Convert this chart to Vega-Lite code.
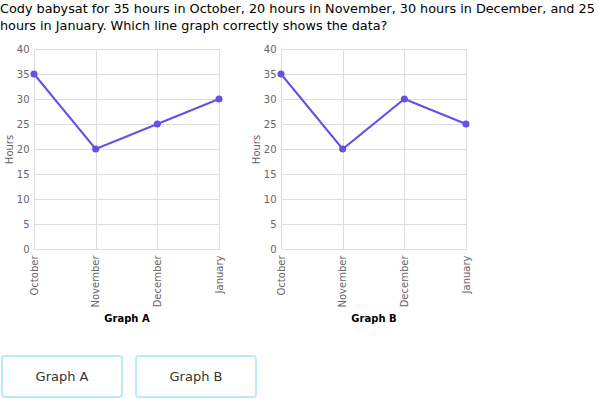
{
  "$schema": "https://vega.github.io/schema/vega-lite/v6.json",
  "padding": {"left": 0, "top": 3, "right": 0, "bottom": 0},
  "background": "white",
  "title": {
    "text": ["Cody babysat for 35 hours in October, 20 hours in November, 30 hours in December, and 25", "hours in January. Which line graph correctly shows the data?"],
    "anchor": "start",
    "font": "DejaVu Sans",
    "fontSize": 12.8,
    "fontWeight": "normal",
    "color": "#000000",
    "lineHeight": 17,
    "offset": 11,
    "dx": -1
  },
  "config": {
    "font": "DejaVu Sans",
    "view": {"stroke": null},
    "axis": {
      "gridColor": "#dddddd",
      "grid": true,
      "domain": false,
      "ticks": false,
      "labelColor": "#666666",
      "labelFontSize": 10,
      "labelFont": "DejaVu Sans"
    }
  },
  "datasets": {
    "hours": [
      {"graph": "A", "month": "October", "hours": 35},
      {"graph": "A", "month": "November", "hours": 20},
      {"graph": "A", "month": "December", "hours": 25},
      {"graph": "A", "month": "January", "hours": 30},
      {"graph": "B", "month": "October", "hours": 35},
      {"graph": "B", "month": "November", "hours": 20},
      {"graph": "B", "month": "December", "hours": 30},
      {"graph": "B", "month": "January", "hours": 25}
    ],
    "buttons": [
      {"label": "Graph A"},
      {"label": "Graph B"}
    ]
  },
  "spacing": 31,
  "vconcat": [
    {
      "spacing": 27,
      "hconcat": [
        {
          "width": 185,
          "height": 200,
          "data": {"name": "hours"},
          "transform": [{"filter": "datum.graph === 'A'"}],
          "mark": {"type": "line", "color": "#6a4ee8", "strokeWidth": 2, "point": {"filled": true, "size": 50, "color": "#6a4ee8"}},
          "encoding": {
            "x": {
              "field": "month", "type": "ordinal",
              "sort": ["October", "November", "December", "January"],
              "scale": {"type": "point", "padding": 0},
              "axis": {"grid": true, "labelAngle": -90, "labelPadding": 6, "title": "Graph A", "titleFontWeight": "bold", "titleFontSize": 10, "titleColor": "#000000", "titlePadding": 6}
            },
            "y": {
              "field": "hours", "type": "quantitative",
              "scale": {"domain": [0, 40], "nice": false},
              "axis": {"values": [0, 5, 10, 15, 20, 25, 30, 35, 40], "labelPadding": 5, "title": "Hours", "titleFontWeight": "normal", "titleFontSize": 10, "titleColor": "#666666", "titlePadding": 2}
            }
          }
        },
        {
          "width": 185,
          "height": 200,
          "data": {"name": "hours"},
          "transform": [{"filter": "datum.graph === 'B'"}],
          "mark": {"type": "line", "color": "#6a4ee8", "strokeWidth": 2, "point": {"filled": true, "size": 50, "color": "#6a4ee8"}},
          "encoding": {
            "x": {
              "field": "month", "type": "ordinal",
              "sort": ["October", "November", "December", "January"],
              "scale": {"type": "point", "padding": 0},
              "axis": {"grid": true, "labelAngle": -90, "labelPadding": 6, "title": "Graph B", "titleFontWeight": "bold", "titleFontSize": 10, "titleColor": "#000000", "titlePadding": 6}
            },
            "y": {
              "field": "hours", "type": "quantitative",
              "scale": {"domain": [0, 40], "nice": false},
              "axis": {"values": [0, 5, 10, 15, 20, 25, 30, 35, 40], "labelPadding": 5, "title": "Hours", "titleFontWeight": "normal", "titleFontSize": 10, "titleColor": "#666666", "titlePadding": 2}
            }
          }
        }
      ]
    },
    {
      "width": 254,
      "height": 41,
      "data": {"name": "buttons"},
      "layer": [
        {
          "mark": {"type": "rect", "fill": "white", "stroke": "#b8ecfc", "strokeWidth": 2, "cornerRadius": 3, "xOffset": -32},
          "encoding": {
            "x": {"field": "label", "type": "nominal", "scale": {"type": "band", "paddingInner": 0.104, "paddingOuter": 0}, "axis": null}
          }
        },
        {
          "mark": {"type": "text", "fontSize": 13, "font": "DejaVu Sans", "color": "#333333", "baseline": "middle", "xOffset": -32},
          "encoding": {
            "x": {"field": "label", "type": "nominal", "axis": null},
            "text": {"field": "label"}
          }
        }
      ]
    }
  ]
}
